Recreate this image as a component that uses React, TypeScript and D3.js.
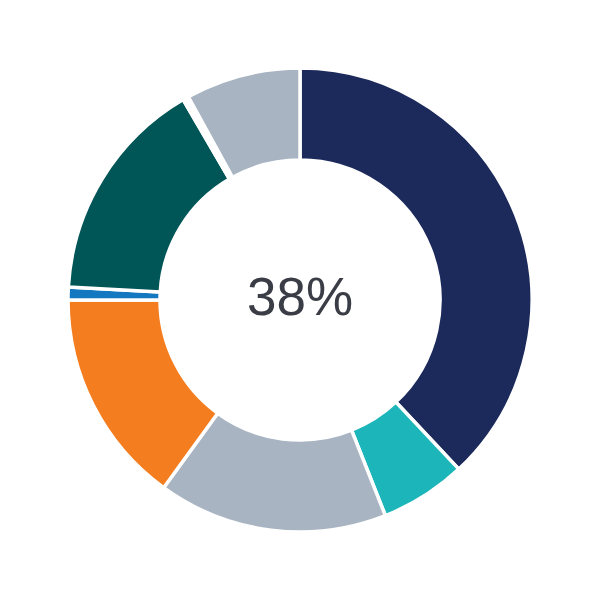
import { useEffect, useRef } from 'react'
import * as d3 from 'd3'

const CATEGORIES = ['A', 'B', 'C', 'D', 'E', 'F', 'gap', 'G']
const VALUES = [38, 6, 16, 15, 0.9, 15.7, 0.4, 8]
const COLORS = ['#1c2a5b', '#1cb5b9', '#a9b4c3', '#f47d20', '#1378bf', '#005557', '#ffffff', '#a9b4c3']
const CENTER_LABEL = '38%'

const W = 600, H = 600
const R_OUT = 232, R_IN = 140

export default function App() {
  const svgRef = useRef<SVGSVGElement>(null)

  useEffect(() => {
    const svg = d3.select(svgRef.current)
    svg.selectAll('*').remove()
    const g = svg.append('g').attr('transform', `translate(${W / 2},${H / 2})`)

    const data = CATEGORIES.map((c, i) => ({ c, v: VALUES[i], color: COLORS[i] }))
    const pie = d3.pie<{ c: string; v: number; color: string }>().value(d => d.v).sort(null)
    const arc = d3.arc<d3.PieArcDatum<{ c: string; v: number; color: string }>>()
      .innerRadius(R_IN).outerRadius(R_OUT)

    g.selectAll('path').data(pie(data)).join('path')
      .attr('d', arc)
      .attr('fill', d => d.data.color)
      .attr('stroke', '#ffffff')
      .attr('stroke-width', 3.5)
      .attr('stroke-linejoin', 'round')

    g.append('text')
      .attr('x', 0).attr('y', 15)
      .attr('text-anchor', 'middle')
      .attr('font-family', '"Liberation Sans", Arial, sans-serif')
      .attr('font-size', 53)
      .attr('fill', '#3a3d45')
      .text(CENTER_LABEL)
  }, [])

  return (
    <svg ref={svgRef} width={W} height={H}
      style={{ position: 'absolute', left: 0, top: 0, background: '#ffffff' }} />
  )
}
